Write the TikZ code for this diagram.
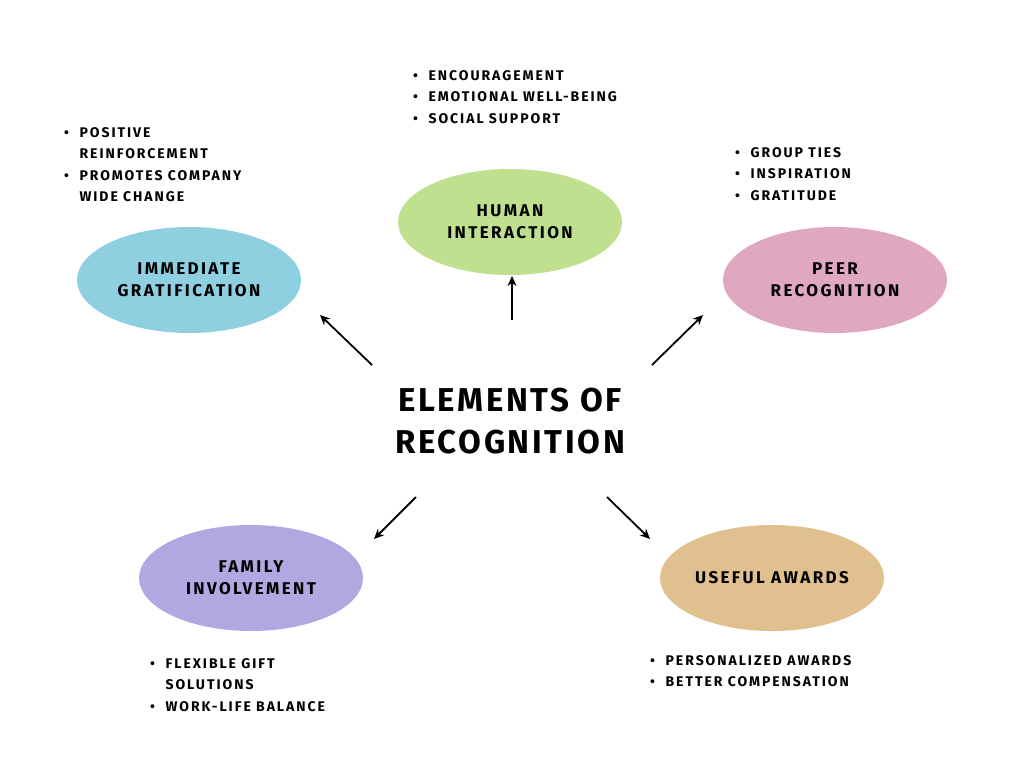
\documentclass[tikz,border=0pt]{standalone}
\usepackage{fontspec}
\setmainfont{Fira Sans}[UprightFont=* Bold]
\newfontfamily\myspa{Fira Sans Bold}[LetterSpace=14]
\newfontfamily\myspb{Fira Sans Bold}[LetterSpace=8]
\usetikzlibrary{arrows.meta,shapes.geometric}
\definecolor{cb}{HTML}{8ECFE0}\definecolor{cg}{HTML}{BFE08F}\definecolor{cp}{HTML}{E0A8C0}
\definecolor{cv}{HTML}{B0A8E0}\definecolor{ct}{HTML}{E0C08F}
\begin{document}
\begin{tikzpicture}[x=1pt,y=-1pt,
 el/.style={ellipse,minimum width=224pt,minimum height=106pt,inner sep=0pt,align=center,font=\myspa\fontsize{17}{22}\selectfont},
 lst/.style={anchor=north west,align=left,font=\myspa\fontsize{14}{21.5}\selectfont,inner sep=0pt},
 ar/.style={-{Stealth[length=10pt,width=9pt]},line width=1.8pt}]
\useasboundingbox[fill=white] (0,0) rectangle (1024,768);
\node[el,fill=cb] (a) at (189,280) {IMMEDIATE\\GRATIFICATION};
\node[el,fill=cg] (b) at (510,222) {HUMAN\\INTERACTION};
\node[el,fill=cp] (c) at (835,280) {PEER\\RECOGNITION};
\node[el,fill=cv] (d) at (251,578) {FAMILY\\INVOLVEMENT};
\node[el,fill=ct] (e) at (772,578) {USEFUL AWARDS};
\node[align=center,font=\myspb\fontsize{33}{42}\selectfont] (m) at (510,421) {ELEMENTS OF\\RECOGNITION};
\coordinate (m1) at (372,365); \coordinate (t1) at (320,315);
\coordinate (m2) at (512,320); \coordinate (t2) at (512,276);
\coordinate (m3) at (652,365); \coordinate (t3) at (703,315);
\coordinate (m4) at (416,497); \coordinate (t4) at (374,539);
\coordinate (m5) at (607,497); \coordinate (t5) at (650,539);
\foreach \i in {1,...,5}{\draw[ar] (m\i) -- (t\i);}
\node[lst] (la) at (64,127) {•\ \ POSITIVE\\\phantom{•\ \ }REINFORCEMENT\\•\ \ PROMOTES COMPANY\\\phantom{•\ \ }WIDE CHANGE};
\node[lst] (lb) at (413,70) {•\ \ ENCOURAGEMENT\\•\ \ EMOTIONAL WELL-BEING\\•\ \ SOCIAL SUPPORT};
\node[lst] (lc) at (735,147) {•\ \ GROUP TIES\\•\ \ INSPIRATION\\•\ \ GRATITUDE};
\node[lst] (ld) at (150,658) {•\ \ FLEXIBLE GIFT\\\phantom{•\ \ }SOLUTIONS\\•\ \ WORK-LIFE BALANCE};
\node[lst] (le) at (650,655) {•\ \ PERSONALIZED AWARDS\\•\ \ BETTER COMPENSATION};
\end{tikzpicture}
\end{document}
